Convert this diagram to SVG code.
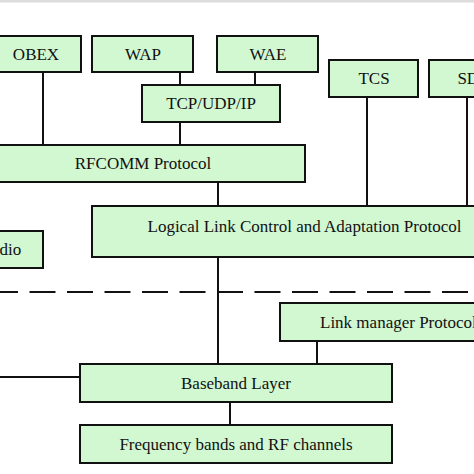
<svg xmlns="http://www.w3.org/2000/svg" width="474" height="474" viewBox="0 0 474 474">
<style>
.box{fill:#d2f8d2;stroke:#111;stroke-width:2}
.lbl{font-family:"Liberation Serif","Times New Roman",serif;font-size:17px;fill:#111;text-anchor:middle}
.ln{stroke:#111;stroke-width:2;fill:none}
</style>
<rect x="0" y="0" width="474" height="474" fill="#fff"/>
<rect x="0" y="0" width="474" height="2.5" fill="#dcdcdc"/>
<g id="connectors">
<line class="ln" x1="43" y1="72" x2="43" y2="145"/>
<line class="ln" x1="180" y1="72" x2="180" y2="85"/>
<line class="ln" x1="255" y1="72" x2="255" y2="85"/>
<line class="ln" x1="180" y1="122" x2="180" y2="145"/>
<line class="ln" x1="367" y1="97" x2="367" y2="206"/>
<line class="ln" x1="467" y1="97" x2="467" y2="206"/>
<line class="ln" x1="218" y1="182" x2="218" y2="206"/>
<line class="ln" x1="218" y1="257" x2="218" y2="364"/>
<line class="ln" x1="317" y1="341" x2="317" y2="364"/>
<line class="ln" x1="0" y1="377" x2="80" y2="377"/>
<line class="ln" x1="230" y1="402" x2="230" y2="425"/>
<line class="ln" x1="0" y1="292" x2="474" y2="292" stroke-dasharray="26 11.5" stroke-dashoffset="8"/>
</g>
<g id="obex"><rect class="box" x="-10" y="36" width="91" height="36"/><text class="lbl" x="36" y="60">OBEX</text></g>
<g id="wap"><rect class="box" x="92" y="36" width="101" height="36"/><text class="lbl" x="143" y="60">WAP</text></g>
<g id="wae"><rect class="box" x="217" y="36" width="101" height="36"/><text class="lbl" x="268" y="60">WAE</text></g>
<g id="tcpudpip"><rect class="box" x="142" y="85" width="138" height="37"/><text class="lbl" x="211" y="109">TCP/UDP/IP</text></g>
<g id="tcs"><rect class="box" x="329" y="60" width="89" height="37"/><text class="lbl" x="374" y="84">TCS</text></g>
<g id="sdp"><rect class="box" x="429" y="60" width="89" height="37"/><text class="lbl" x="473" y="84">SDP</text></g>
<g id="rfcomm"><rect class="box" x="-19" y="145" width="324" height="37"/><text class="lbl" x="143" y="169">RFCOMM Protocol</text></g>
<g id="l2cap"><rect class="box" x="92" y="206" width="426" height="51"/><text class="lbl" x="304.5" y="232">Logical Link Control and Adaptation Protocol</text></g>
<g id="audio"><rect class="box" x="-43" y="231" width="86" height="37"/><text class="lbl" x="0" y="255">Audio</text></g>
<g id="lmp"><rect class="box" x="280" y="303" width="234" height="38"/><text class="lbl" x="320" y="328" style="text-anchor:start">Link manager Protocol</text></g>
<g id="baseband"><rect class="box" x="80" y="364" width="312" height="38"/><text class="lbl" x="236" y="389">Baseband Layer</text></g>
<g id="rf"><rect class="box" x="80" y="425" width="312" height="38"/><text class="lbl" x="236" y="450">Frequency bands and RF channels</text></g>
</svg>
